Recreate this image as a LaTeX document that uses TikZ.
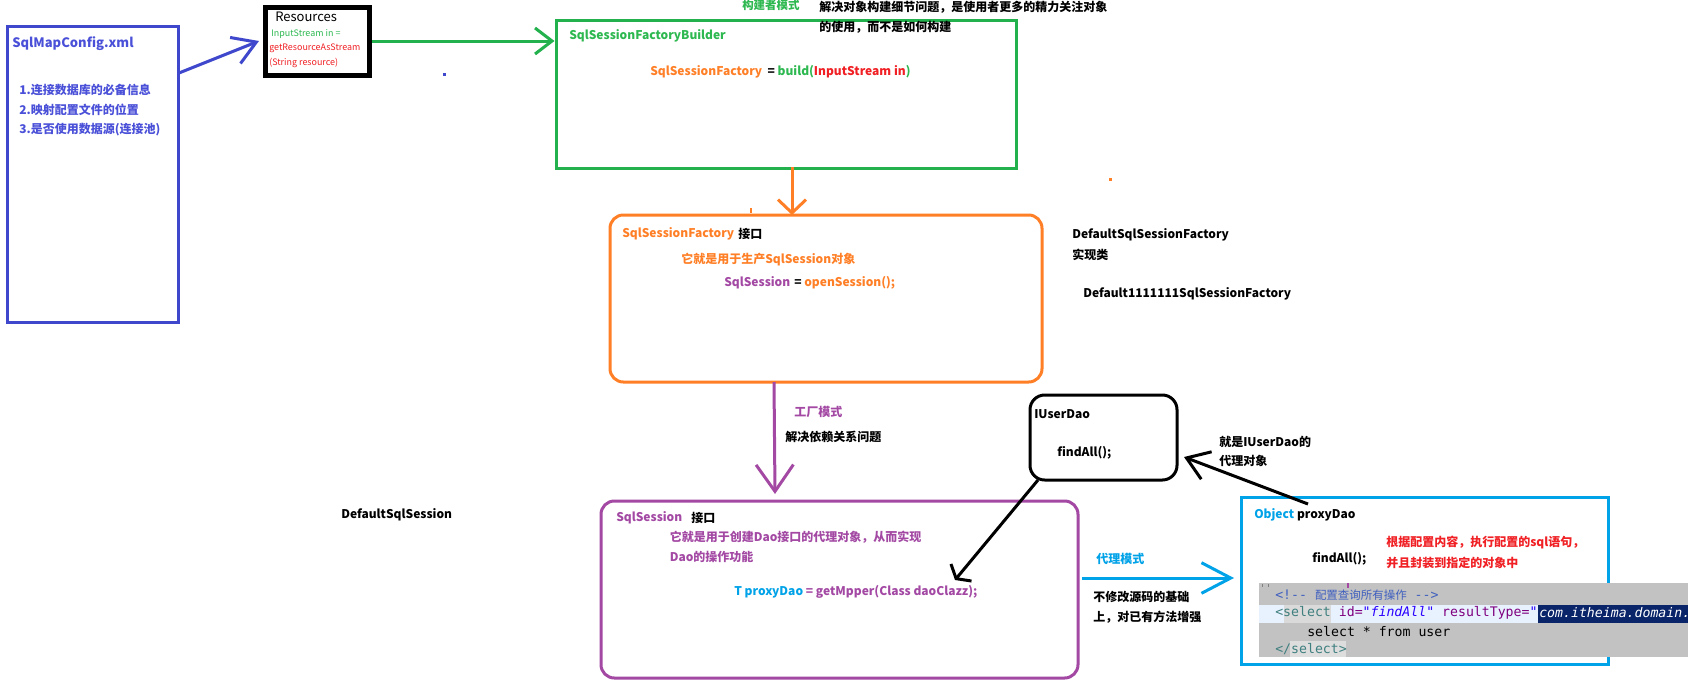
\documentclass[tikz,border=0pt]{standalone}
\usepackage{fontspec}
\setmainfont{Noto Sans CJK SC}
\newfontfamily\cjkf{Noto Sans CJK SC}
\setmonofont{DejaVu Sans Mono}
\usetikzlibrary{arrows.meta}
\definecolor{pblue}{HTML}{3F48CC}
\definecolor{tblue}{HTML}{4A50D8}
\definecolor{pgreen}{HTML}{22B14C}
\definecolor{tgreen}{HTML}{2DB850}
\definecolor{porange}{HTML}{FF7F27}
\definecolor{ppurple}{HTML}{A349A4}
\definecolor{pcyan}{HTML}{00A2E8}
\definecolor{pred}{HTML}{F02024}
\definecolor{cgray}{HTML}{C2C2C2}
\definecolor{chl}{HTML}{E8F2FE}
\definecolor{cnavy}{HTML}{0A246A}
\definecolor{ctag}{HTML}{3F7F7F}
\definecolor{cattr}{HTML}{7F007F}
\definecolor{cval}{HTML}{2A00FF}
\definecolor{ccom}{HTML}{3F5FBF}
\newcommand\szA{\fontsize{9}{10}\selectfont}
\newcommand\szB{\fontsize{9.75}{11}\selectfont}
\newcommand\szC{\fontsize{6.7}{8}\selectfont}
\newcommand\szCode{\fontsize{9.9}{12}\selectfont}
\begin{document}
\begin{tikzpicture}[x=0.75pt,y=-0.75pt,
  box/.style={anchor=north west, inner sep=0pt, line width=2.25pt},
  txt/.style={anchor=west, inner sep=0pt, font=\bfseries\szA},
  code/.style={anchor=west, inner sep=0pt, font=\ttfamily\szCode},
  ln/.style={line width=2.25pt}]
\useasboundingbox (0,0) rectangle (1688,693);
\fill[white] (0,0) rectangle (1688,693);

% boxes
\node[box, draw=pblue, minimum width=128.25pt, minimum height=222pt] (cfg) at (5.5,24.5) {};
\node[box, draw=black, line width=3.75pt, minimum width=78pt, minimum height=51pt] (res) at (262.5,4.5) {};
\node[box, draw=pgreen, minimum width=345pt, minimum height=111pt] (bld) at (554.5,18.5) {};
\node[box, draw=porange, rounded corners=10pt, minimum width=324pt, minimum height=125.25pt] (fac) at (608.5,213.5) {};
\node[box, draw=ppurple, rounded corners=10pt, minimum width=357.75pt, minimum height=132.75pt] (ses) at (599.5,499.5) {};
\node[box, draw=black, rounded corners=11pt, minimum width=110.25pt, minimum height=63.75pt] (dao) at (1028.5,393.5) {};
\node[box, draw=pcyan, minimum width=275.25pt, minimum height=125.25pt] (prx) at (1239.5,495.5) {};

% code block
\node[anchor=north west, inner sep=0pt, fill=cgray, minimum width=321.75pt, minimum height=55.5pt] (blk) at (1259,583) {};
\fill[chl] (1259,605) rectangle (1538,623);
\fill[cgray!60!white] (1284,605) rectangle (1331,623);
\fill[cnavy] (1538,605) rectangle (1688,623);
\fill[cgray!55!white] (1290,641) rectangle (1346,657);
\draw[gray, line width=0.75pt] (1262,584) -- (1262,587) (1268,584) -- (1268,587);
\draw[ppurple, line width=1pt] (1348,583) -- (1348,588);
\node[code, text=ccom] (k1) at (1275,595) {<!-- {\cjkf\fontsize{8.6}{10}\selectfont 配置查询所有操作} -->};
\node[code] (k2) at (1275,613) {\textcolor{ctag}{<select} \textcolor{cattr}{id=}\textcolor{cval}{\itshape"findAll"} \textcolor{cattr}{resultType=}\textcolor{cval}{"}};
\node[code, text=white] (k3) at (1539,613) {\itshape com.itheima.domain.};
\node[code, text=black] (k4) at (1307,632) {select * from user};
\node[code, text=ctag] (k5) at (1275,649) {</select>};

% small marks
\fill[pblue] (443,72.5) rectangle (446,75.5);
\fill[porange] (1109,177.5) rectangle (1112,180.5);
\draw[porange, line width=1.5pt] (751,208) -- (751,213);

% connectors
\coordinate (a1s) at (179,73); \coordinate (a1e) at (259,41);
\draw[ln, pblue, -{Straight Barb[length=17pt,width=21pt]}] (a1s) -- (a1e);
\draw[ln, pgreen, -{Straight Barb[length=12.75pt,width=19.5pt]}] (res.east) -- (res.east -| bld.west);
\coordinate (o1) at (792,167); \coordinate (o2) at (792,215);
\draw[ln, porange, -{Straight Barb[length=10pt,width=21pt]}] (o1) -- (o2);
\coordinate (p1) at (774,382); \coordinate (p2) at (775,494);
\draw[ln, ppurple, -{Straight Barb[length=20pt,width=28pt]}] (p1) -- (p2);
\coordinate (d1) at (1038,480); \coordinate (d2) at (955,580);
\draw[ln, black, -{Straight Barb[length=6pt,width=20pt]}] (d1) -- (d2);
\coordinate (x1) at (1308,504); \coordinate (x2) at (1184,457);
\draw[ln, black, -{Straight Barb[length=16pt,width=22pt]}] (x1) -- (x2);
\coordinate (c1) at (1082,578); \coordinate (c2) at (1234,578);
\draw[ln, pcyan, -{Straight Barb[length=22pt,width=23pt]}] (c1) -- (c2);

% texts: SqlMapConfig
\node[txt, text=tblue, font=\bfseries\szB] (t1) at (12,44) {SqlMapConfig.xml};
\node[txt, text=tblue] (t2) at (19,90) {1.连接数据库的必备信息};
\node[txt, text=tblue] (t3) at (19,110) {2.映射配置文件的位置};
\node[txt, text=tblue] (t4) at (19,130) {3.是否使用数据源(连接池)};

% Resources
\node[txt, font=\szB] (t5) at (275,17) {Resources};
\node[txt, font=\szC, text=tgreen] (t6) at (271,34) {InputStream in =};
\node[txt, font=\szC, text=pred] (t7) at (269,48) {getResourceAsStream};
\node[txt, font=\szC, text=pred] (t8) at (269,63) {(String resource)};

% builder
\node[txt, text=tgreen, font=\bfseries\fontsize{8.6}{10}\selectfont] (t9) at (742,5) {构建者模式};
\node[txt] (t10) at (819,7) {解决对象构建细节问题，是使用者更多的精力关注对象};
\node[txt] (t11) at (819,27) {的使用，而不是如何构建};
\node[txt, text=tgreen] (t12) at (569,36) {SqlSessionFactoryBuilder};
\node[txt] (t13) at (650,72) {\textcolor{porange}{SqlSessionFactory}\ \ = \textcolor{tgreen}{build(}\textcolor{pred}{InputStream in}\textcolor{tgreen}{)}};

% factory
\node[txt, text=porange] (t14) at (622,234) {SqlSessionFactory};
\node[txt] (t15) at (738,234) {接口};
\node[txt, text=porange] (t16) at (681,260) {它就是用于生产SqlSession对象};
\node[txt, text=ppurple] (t17) at (724,283) {SqlSession};
\node[txt] (t18) at (794,283) {= \textcolor{porange}{openSession();}};
\node[txt] (t19) at (1072,235) {DefaultSqlSessionFactory};
\node[txt] (t20) at (1072,255) {实现类};
\node[txt] (t21) at (1083,294) {Default1111111SqlSessionFactory};

% factory pattern
\node[txt, text=ppurple] (t22) at (794,412) {工厂模式};
\node[txt] (t23) at (785,437) {解决依赖关系问题};

% session
\node[txt] (t24) at (341,515) {DefaultSqlSession};
\node[txt, text=ppurple] (t25) at (616,518) {SqlSession};
\node[txt] (t26) at (691,518) {接口};
\node[txt, text=ppurple] (t27) at (669.5,537) {它就是用于创建Dao接口的代理对象，从而实现};
\node[txt, text=ppurple] (t28) at (669.5,557) {Dao的操作功能};
\node[txt] (t29) at (734,592) {\textcolor{pcyan}{T proxyDao} \textcolor{ppurple}{= getMpper(Class daoClazz);}};

% IUserDao
\node[txt] (t30) at (1034,414) {IUserDao};
\node[txt] (t31) at (1057,453) {findAll();};
\node[txt] (t32) at (1219,442) {就是IUserDao的};
\node[txt] (t33) at (1219,461) {代理对象};

% proxy
\node[txt, text=pcyan] (t34) at (1096,559) {代理模式};
\node[txt] (t35) at (1093,597) {不修改源码的基础};
\node[txt] (t36) at (1093,617) {上，对已有方法增强};
\node[txt] (t37) at (1254,515) {\textcolor{pcyan}{Object} proxyDao};
\node[txt] (t38) at (1312,559) {findAll();};
\node[txt, text=pred] (t39) at (1386,543) {根据配置内容，执行配置的sql语句，};
\node[txt, text=pred] (t40) at (1386,563) {并且封装到指定的对象中};
\end{tikzpicture}
\end{document}
